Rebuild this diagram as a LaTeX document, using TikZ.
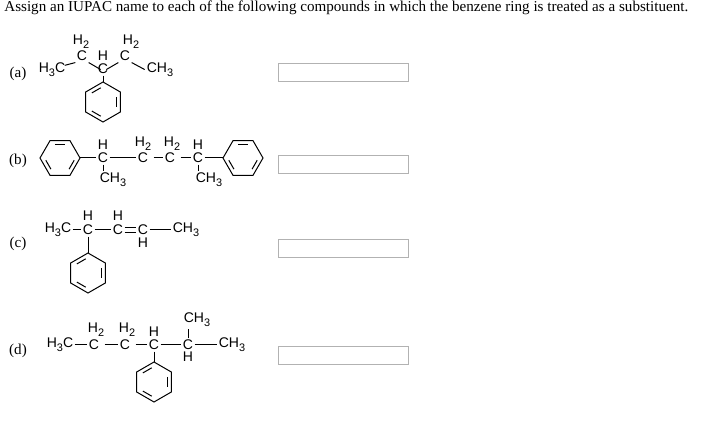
\documentclass[tikz,border=0pt]{standalone}
\usepackage{fontspec}
\setmainfont{Liberation Serif}
\newfontfamily\hel{Liberation Sans}
\newcommand\sub[1]{\raisebox{-0.3em}{\scalebox{0.78}{#1}}}
\tikzset{
 bond/.style={line width=0.5pt},
 atm/.style={font=\hel\fontsize{7pt}{8pt}\selectfont, inner sep=0.6pt},
 lab/.style={font=\fontsize{7.55pt}{8pt}\selectfont, inner sep=0pt},
 ans/.style={draw=black!30, line width=0.5pt},
}
\newcommand\benzring[2]{\begin{scope}[shift={(#1)}]
 \draw[bond] (#2:20)--(#2+60:20)--(#2+120:20)--(#2+180:20)--(#2+240:20)--(#2+300:20)--cycle;
 \foreach \k in {0,2,4}{\draw[bond,shorten >=1.3pt,shorten <=1.3pt] ({#2+60*\k}:15.5)--({#2+60*\k+60}:15.5);}
\end{scope}}
\begin{document}
\begin{tikzpicture}[x=0.5pt,y=-0.5pt]
\useasboundingbox[fill=white] (0,0) rectangle (705,421);
\node[lab,anchor=west] (title) at (4,8) {Assign an IUPAC name to each of the following compounds in which the benzene ring is treated as a substituent.};
% labels
\node[lab] (la) at (18,74) {(a)};
\node[lab] (lb) at (18,161) {(b)};
\node[lab] (lc) at (18,244) {(c)};
\node[lab] (ld) at (18,351) {(d)};
% answer boxes
\draw[ans] (278,64) rectangle (408,82);
\draw[ans] (278,156) rectangle (408,174);
\draw[ans] (278,240) rectangle (408,258);
\draw[ans] (278,347) rectangle (408,365);
% (a)
\node[atm] (aL) at (52,70) {H\sub{3}C};
\node[atm] (a1) at (82,56) {C};
\node[atm] (a1h) at (81,42) {H\sub{2}};
\node[atm] (a2) at (103,69) {C};
\node[atm] (a2h) at (103,56) {H};
\node[atm] (a3) at (125,56) {C};
\node[atm] (a3h) at (131,42) {H\sub{2}};
\node[atm] (aR) at (160,70) {CH\sub{3}};
\draw[bond] (aL.north east) ++(-2,4) -- (a1.south west);
\draw[bond] (a1.south east) -- ++(12,7);
\draw[bond] (a3.south west) -- ++(-12,7);
\draw[bond] (a3.south east) -- ++(13,7);
\coordinate (aT) at (103,82);
\draw[bond] (a2.south) -- (aT);
\benzring{103,102}{90}
% (b)
\coordinate (bRL) at (80,158);
\benzring{60,158}{0}
\node[atm] (b1) at (103,158) {C};
\node[atm] (b1h) at (103,145) {H};
\node[atm] (b1m) at (113,180) {CH\sub{3}};
\node[atm] (b2) at (143,158) {C};
\node[atm] (b2h) at (143,144) {H\sub{2}};
\node[atm] (b3) at (170,158) {C};
\node[atm] (b3h) at (172,144) {H\sub{2}};
\node[atm] (b4) at (198,158) {C};
\node[atm] (b4h) at (198,145) {H};
\node[atm] (b4m) at (209,180) {CH\sub{3}};
\coordinate (bRR) at (223,158);
\benzring{243,158}{0}
\draw[bond] (bRL) -- (b1.west);
\draw[bond] (b1.east) -- (b2.west);
\draw[bond,shorten <=2pt] (b2.east) -- (b3.west);
\draw[bond,shorten <=2pt] (b3.east) -- (b4.west);
\draw[bond] (b4.east) -- (bRR);
\draw[bond] (b1.south) -- (b1.south |- b1m.north);
\draw[bond] (b4.south) -- (b4.south |- b4m.north);
% (c)
\node[atm] (cL) at (58,230) {H\sub{3}C};
\node[atm] (c1) at (88,230) {C};
\node[atm] (c1h) at (88,216) {H};
\node[atm] (c2) at (118,230) {C};
\node[atm] (c2h) at (118,216) {H};
\node[atm] (c3) at (143,230) {C};
\node[atm] (c3h) at (143,243) {H};
\node[atm] (cR) at (186,230) {CH\sub{3}};
\draw[bond] (cL.east) -- (c1.west);
\draw[bond] (c1.east) -- (c2.west);
\draw[bond] ([yshift=-1.1pt]c2.east) -- ([yshift=-1.1pt]c3.west);
\draw[bond] ([yshift=1.1pt]c2.east) -- ([yshift=1.1pt]c3.west);
\draw[bond] (c3.east) -- (cR.west);
\coordinate (cT) at (88,253);
\draw[bond] (c1.south) -- (cT);
\benzring{88,273}{90}
% (d)
\node[atm] (dL) at (60,345) {H\sub{3}C};
\node[atm] (d1) at (94,345) {C};
\node[atm] (d1h) at (96,330) {H\sub{2}};
\node[atm] (d2) at (125,345) {C};
\node[atm] (d2h) at (127,330) {H\sub{2}};
\node[atm] (d3) at (154,345) {C};
\node[atm] (d3h) at (154,332) {H};
\node[atm] (d4) at (188,345) {C};
\node[atm] (d4h) at (188,357) {H};
\node[atm] (d4m) at (197,320) {CH\sub{3}};
\node[atm] (dR) at (232,345) {CH\sub{3}};
\draw[bond] (dL.east) -- (d1.west);
\draw[bond,shorten <=2pt] (d1.east) -- (d2.west);
\draw[bond,shorten <=2pt] (d2.east) -- (d3.west);
\draw[bond] (d3.east) -- (d4.west);
\draw[bond] (d4.east) -- (dR.west);
\draw[bond] (d4.north) -- (d4.north |- d4m.south);
\coordinate (dT) at (154,362);
\draw[bond] (d3.south) -- (dT);
\benzring{154,382}{90}
\end{tikzpicture}
\end{document}
